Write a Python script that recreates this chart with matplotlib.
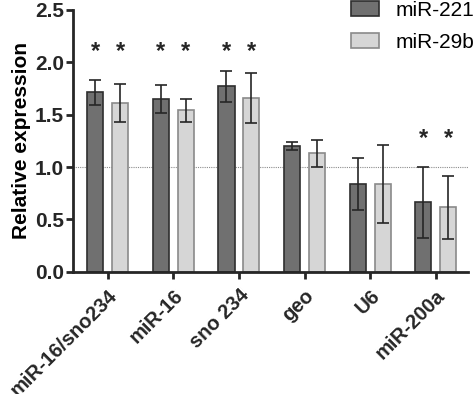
import matplotlib
matplotlib.use("Agg")
import matplotlib.pyplot as plt
import matplotlib.patches as mpatches
import matplotlib.transforms as mtransforms
import numpy as np

CATEGORIES = ["miR-16/sno234", "miR-16", "sno 234", "geo", "U6", "miR-200a"]
MIR221 = [1.715, 1.65, 1.77, 1.20, 0.84, 0.665]
MIR221_ERR = [0.12, 0.135, 0.145, 0.04, 0.25, 0.34]
MIR29B = [1.61, 1.54, 1.66, 1.13, 0.84, 0.615]
MIR29B_ERR = [0.18, 0.11, 0.24, 0.125, 0.37, 0.30]
# significance stars: (group index, height)
STARS = [(0, 2.10), (1, 2.10), (2, 2.10), (5, 1.27)]

DARK = "#707070"
DARK_EDGE = "#2e2e2e"
LIGHT = "#d6d6d6"
LIGHT_EDGE = "#8a8a8a"
INK = "#262626"

plt.rcParams.update({
    "font.family": ["Liberation Sans", "DejaVu Sans"],
    "font.size": 15,
})

fig = plt.figure(figsize=(4.74, 3.94), dpi=100)
ax = fig.add_axes([0.154, 0.310, 0.833, 0.665])

x = np.arange(len(CATEGORIES))
off = 0.19
w = 0.245
ax.bar(x - off, MIR221, w, color=DARK, edgecolor=DARK_EDGE, linewidth=1.2, zorder=2)
ax.bar(x + off, MIR29B, w, color=LIGHT, edgecolor=LIGHT_EDGE, linewidth=1.2, zorder=2)
ax.errorbar(x - off, MIR221, yerr=MIR221_ERR, fmt="none", ecolor=INK,
            elinewidth=1.2, capsize=4, capthick=1.2, zorder=3)
ax.errorbar(x + off, MIR29B, yerr=MIR29B_ERR, fmt="none", ecolor=INK,
            elinewidth=1.2, capsize=4, capthick=1.2, zorder=3)

ax.axhline(1.0, color="#8c8c8c", lw=0.8, ls=(0, (1, 1)), zorder=1)

for i, h in STARS:
    for dx in (-off, off):
        ax.text(x[i] + dx, h, "*", ha="center", va="center",
                fontsize=17, fontweight="bold", color=INK)

ax.set_xlim(-0.53, 5.49)
ax.set_ylim(0, 2.5)
ax.set_yticks(np.arange(0, 2.51, 0.5))
ax.set_yticklabels([f"{v:.1f}" for v in np.arange(0, 2.51, 0.5)],
                   fontweight="bold")
ax.set_xticks(x)
ax.set_xticklabels(CATEGORIES, rotation=45, ha="right",
                   rotation_mode="anchor", fontweight="bold", fontsize=14.5)
# nudge rotated labels a little to the right, as in the original
shift = mtransforms.ScaledTranslation(5 / 72, 0, fig.dpi_scale_trans)
for lbl in ax.get_xticklabels():
    lbl.set_transform(lbl.get_transform() + shift)
ax.set_ylabel("Relative expression", fontweight="bold", labelpad=3)

for s in ("top", "right"):
    ax.spines[s].set_visible(False)
for s in ("left", "bottom"):
    ax.spines[s].set_linewidth(2.0)
    ax.spines[s].set_color(INK)
ax.tick_params(axis="both", direction="out", length=5, width=2.0,
               colors=INK)
ax.tick_params(axis="y", labelsize=15, pad=1.5)
ax.tick_params(axis="x", pad=5)

handles = [
    mpatches.Patch(facecolor=DARK, edgecolor=DARK_EDGE, lw=1.2, label="miR-221"),
    mpatches.Patch(facecolor=LIGHT, edgecolor=LIGHT_EDGE, lw=1.2, label="miR-29b"),
]
fig.legend(handles=handles, loc="upper left", bbox_to_anchor=(0.70, 1.045),
           frameon=False, fontsize=15, handlelength=1.35, handleheight=0.75,
           handletextpad=0.8, labelspacing=0.6)

fig.savefig("out.png", dpi=100)
